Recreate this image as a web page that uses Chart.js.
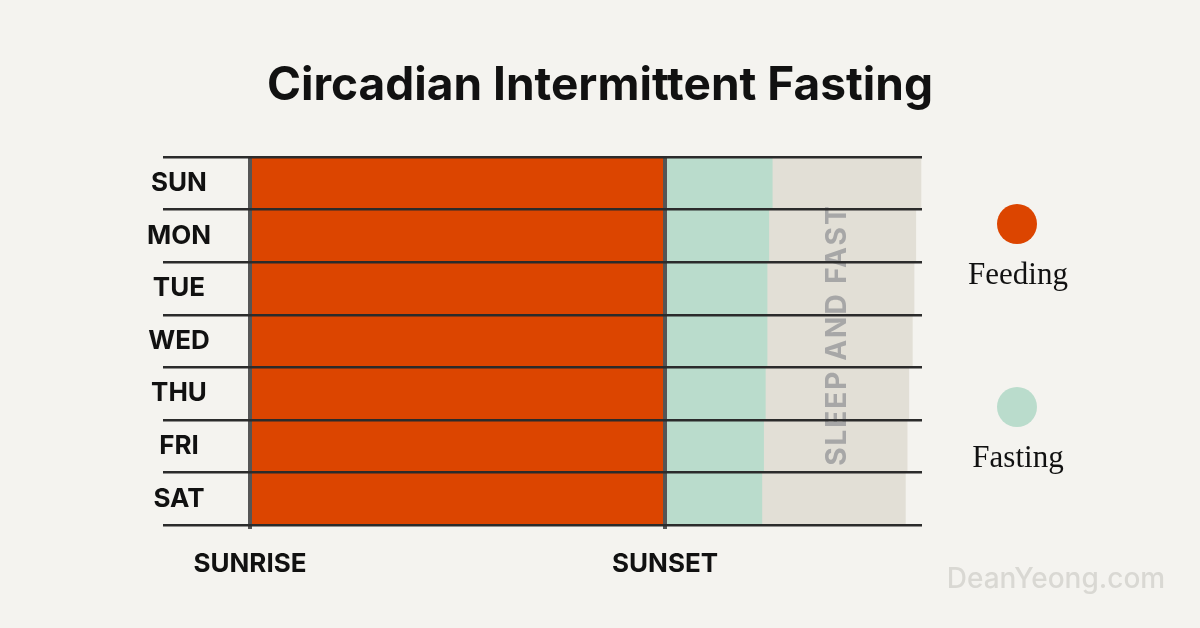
<!DOCTYPE html>
<html>
<head>
<meta charset="utf-8">
<title>Circadian Intermittent Fasting</title>
<script src="https://cdn.jsdelivr.net/npm/chart.js@4.4.1/dist/chart.umd.min.js"></script>
<style>
    html, body { margin: 0; padding: 0; background: #f4f3ef; }
    #wrap { position: relative; width: 1200px; height: 628px; }
</style>
</head>
<body>
<div id="wrap"><canvas id="fastChart"></canvas></div>
<script>
// Chart data (hours from sunrise)
const days = ['SUN', 'MON', 'TUE', 'WED', 'THU', 'FRI', 'SAT'];
const feedingHours = [12, 12, 12, 12, 12, 12, 12];
const fastingHours = [3.1, 3.0, 2.95, 2.95, 2.9, 2.85, 2.8];
const sleepHours = [4.3, 4.25, 4.25, 4.2, 4.15, 4.15, 4.15];
const markerTicks = [0, 12];
const markerLabels = ['SUNRISE', 'SUNSET'];
const seriesNames = ['Feeding', 'Fasting', 'Sleep and fast'];
const sleepLabel = 'SLEEP AND FAST';
const watermark = 'DeanYeong.com';

const sans = 'Inter, "Noto Sans", sans-serif';

// Extra drawing: vertical label, dot legend, watermark
const extrasPlugin = {
    id: 'extras',
    afterDatasetsDraw(chart) {
        const { ctx, chartArea, scales } = chart;
        ctx.save();
        ctx.translate(scales.x.getPixelForValue(17), (chartArea.top + chartArea.bottom) / 2 - 6);
        ctx.rotate(-Math.PI / 2);
        ctx.font = `700 28px ${sans}`;
        ctx.letterSpacing = '2px';
        ctx.fillStyle = '#a7a7a7';
        ctx.textAlign = 'center';
        ctx.textBaseline = 'middle';
        ctx.fillText(sleepLabel, 0, 0);
        ctx.restore();
    },
    afterDraw(chart) {
        const { ctx } = chart;
        const spots = [224, 407];
        ctx.save();
        chart.data.datasets.slice(0, 2).forEach((ds, i) => {
            ctx.beginPath();
            ctx.fillStyle = ds.backgroundColor;
            ctx.arc(1017, spots[i], 20, 0, Math.PI * 2);
            ctx.fill();
            ctx.fillStyle = '#111';
            ctx.font = '31px "Liberation Serif", "DejaVu Serif", serif';
            ctx.textAlign = 'center';
            ctx.textBaseline = 'middle';
            ctx.fillText(ds.label, 1018, spots[i] + 52);
        });
        ctx.font = `500 28px ${sans}`;
        ctx.fillStyle = '#d9d8d3';
        ctx.textAlign = 'center';
        ctx.textBaseline = 'middle';
        ctx.fillText(watermark, 1056, 580);
        ctx.restore();
    }
};

const ctx = document.getElementById('fastChart').getContext('2d');
const fastChart = new Chart(ctx, {
    type: 'bar',
    data: {
        labels: days,
        datasets: [
            { label: seriesNames[0], data: feedingHours, backgroundColor: '#dc4500' },
            { label: seriesNames[1], data: fastingHours, backgroundColor: '#badccc' },
            { label: seriesNames[2], data: sleepHours, backgroundColor: '#e2dfd6' }
        ]
    },
    options: {
        indexAxis: 'y',
        responsive: true,
        maintainAspectRatio: false,
        animation: false,
        events: [],
        layout: { padding: 0 },
        datasets: {
            bar: { barPercentage: 1, categoryPercentage: 1, borderWidth: 0 }
        },
        scales: {
            x: {
                type: 'linear',
                stacked: true,
                min: 0,
                max: 19.43,
                afterBuildTicks: (scale) => {
                    scale.ticks = markerTicks.map(v => ({ value: v }));
                },
                afterFit: (scale) => { scale.height = 103; },
                ticks: {
                    autoSkip: false,
                    maxRotation: 0,
                    padding: 20,
                    color: '#111',
                    font: { family: sans, size: 26, weight: 'bold' },
                    callback: (value, index) => markerLabels[index]
                },
                grid: { color: '#555', lineWidth: 4, drawTicks: true, tickLength: 4, z: 1 },
                border: { display: false }
            },
            y: {
                stacked: true,
                afterFit: (scale) => { scale.width = 250; },
                ticks: {
                    crossAlign: 'center',
                    padding: -48,
                    color: '#111',
                    font: { family: sans, size: 26, weight: 'bold' }
                },
                grid: { offset: true, color: '#2b2b2b', lineWidth: 2.5, drawTicks: true, tickLength: 87, z: 1 },
                border: { display: false }
            },
            // empty right-hand axis that reserves room for the legend
            side: {
                type: 'linear',
                position: 'right',
                afterFit: (scale) => { scale.width = 278; },
                ticks: { display: false },
                grid: { display: false },
                border: { display: false }
            }
        },
        plugins: {
            legend: { display: false },
            tooltip: { enabled: false },
            title: {
                display: true,
                text: 'Circadian Intermittent Fasting',
                color: '#111',
                font: { family: sans, size: 46, weight: 'bold' },
                padding: { top: 59, bottom: 43 }
            }
        }
    },
    plugins: [extrasPlugin]
});
</script>
</body>
</html>
